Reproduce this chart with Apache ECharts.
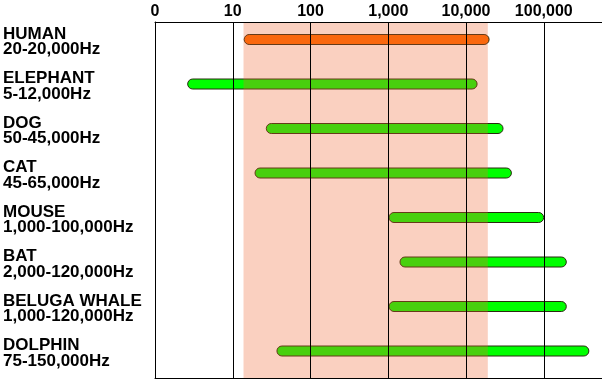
<!DOCTYPE html>
<html>
<head>
<meta charset="utf-8">
<script src="https://cdn.jsdelivr.net/npm/echarts@6/dist/echarts.min.js"></script>
<style>
html,body{margin:0;padding:0;background:#fff;}
#c{width:602px;height:381px;}
</style>
</head>
<body>
<div id="c"></div>
<script>
const categories = ['HUMAN','ELEPHANT','DOG','CAT','MOUSE','BAT','BELUGA WHALE','DOLPHIN'];
const rangeLabels = ['20-20,000Hz','5-12,000Hz','50-45,000Hz','45-65,000Hz','1,000-100,000Hz','2,000-120,000Hz','1,000-120,000Hz','75-150,000Hz'];
const lowHz = [13.7, 2.56, 26.4, 18.9, 1008, 1396, 1008, 36.2];
const highHz = [19650, 13770, 29730, 38120, 99300, 194500, 194500, 379600];
const humanBand = [13.75, 19070];
const tickLabels = ['0','10','100','1,000','10,000','100,000'];
const axisMin = 1;
const axisMax = 561000;

const FONT = "'Liberation Sans', Arial, sans-serif";
const chart = echarts.init(document.getElementById('c'), null, {renderer:'canvas'});

const barData = categories.map((c, i) => [lowHz[i], highHz[i], i]);

const option = {
  backgroundColor: '#ffffff',
  animation: false,
  grid: [
    {left: 155, right: 0, top: 22, bottom: 3},
    {left: 155, right: 0, top: 17.25, bottom: 7.75}
  ],
  xAxis: [
    {
      gridIndex: 0, type: 'log', logBase: 10, min: axisMin, max: axisMax, position: 'top', z: 10,
      axisLine: {show: true, onZero: false, lineStyle: {color: '#000', width: 1}},
      axisTick: {show: false},
      splitLine: {show: true, lineStyle: {color: '#000', width: 1}},
      axisLabel: {
        show: true, margin: 2, showMaxLabel: false,
        fontFamily: FONT, fontWeight: 'bold', fontSize: 16, color: '#000',
        formatter: function (v) {
          const k = Math.round(Math.log10(v));
          return tickLabels[k] !== undefined ? tickLabels[k] : '';
        }
      }
    },
    {
      gridIndex: 1, type: 'log', logBase: 10, min: axisMin, max: axisMax, show: false
    },
    {
      gridIndex: 0, type: 'log', logBase: 10, min: axisMin, max: axisMax, position: 'bottom', z: 10,
      axisLine: {show: true, onZero: false, lineStyle: {color: '#000', width: 1}},
      axisTick: {show: false}, axisLabel: {show: false}, splitLine: {show: false}
    }
  ],
  yAxis: [
    {
      gridIndex: 0, type: 'value', min: 0, max: 1, z: 10,
      axisLine: {show: true, onZero: false, lineStyle: {color: '#000', width: 1}},
      axisTick: {show: false}, axisLabel: {show: false}, splitLine: {show: false}
    },
    {
      gridIndex: 1, type: 'category', inverse: true, data: categories,
      axisLine: {show: false}, axisTick: {show: false}, splitLine: {show: false},
      axisLabel: {
        show: true, align: 'left', margin: 153, color: '#000',
        padding: [5, 0, 0, 0],
        formatter: function (v, i) {
          return '{n|' + v + '}\n{r|' + rangeLabels[i] + '}';
        },
        rich: {
          n: {fontFamily: FONT, fontWeight: 'bold', fontSize: 17, lineHeight: 15.5, color: '#000'},
          r: {fontFamily: FONT, fontWeight: 'bold', fontSize: 17, lineHeight: 15.5, color: '#000'}
        }
      }
    }
  ],
  series: [
    {
      type: 'custom', xAxisIndex: 1, yAxisIndex: 1, z: 2,
      encode: {x: [0, 1], y: 2},
      data: barData,
      renderItem: function (params, api) {
        const i = api.value(2);
        const s = api.coord([api.value(0), i]);
        const e = api.coord([api.value(1), i]);
        const h = 10;
        return {
          type: 'rect',
          shape: {x: s[0], y: s[1] - h / 2, width: e[0] - s[0], height: h, r: h / 2},
          style: {fill: i === 0 ? '#ff6a00' : '#00ff00', stroke: '#2a2a10', lineWidth: 1}
        };
      }
    },
    {
      type: 'custom', xAxisIndex: 0, yAxisIndex: 0, z: 3,
      encode: {x: [0, 1]},
      data: [[humanBand[0], humanBand[1]]],
      renderItem: function (params, api) {
        const cs = params.coordSys;
        const a = api.coord([api.value(0), 0]);
        const b = api.coord([api.value(1), 0]);
        return {
          type: 'rect',
          shape: {x: a[0], y: cs.y, width: b[0] - a[0], height: cs.height},
          style: {fill: 'rgba(238,98,45,0.3)'}
        };
      }
    }
  ]
};
chart.setOption(option);
</script>
</body>
</html>
